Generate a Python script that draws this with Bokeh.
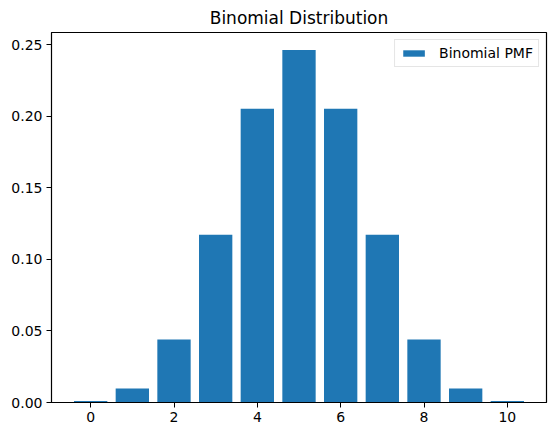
from bokeh.plotting import figure
from bokeh.models import ColumnDataSource, Range1d, FixedTicker, Legend, LegendItem, NumeralTickFormatter
from bokeh.embed import file_html
from bokeh.resources import INLINE

# binomial pmf values (k = 0..10)
k = [0, 1, 2, 3, 4, 5, 6, 7, 8, 9, 10]
pmf = [0.000977, 0.009766, 0.043945, 0.117188, 0.205078, 0.246094,
       0.205078, 0.117188, 0.043945, 0.009766, 0.000977]
x_ticks = [0, 2, 4, 6, 8, 10]
y_ticks = [0.0, 0.05, 0.10, 0.15, 0.20, 0.25]

src = ColumnDataSource(dict(k=k, pmf=pmf))

p = figure(width=548, height=427, output_backend="svg", toolbar_location=None,
           title="Binomial Distribution",
           x_range=Range1d(-0.94, 10.94), y_range=Range1d(0, 0.2584),
           min_border_left=51, min_border_right=2, min_border_top=32, min_border_bottom=25)

r = p.vbar(x="k", top="pmf", width=0.8, source=src, fill_color="#1f77b4", line_color=None)

p.title.align = "center"
p.title.text_font = "DejaVu Sans"
p.title.text_font_size = "17px"
p.title.text_font_style = "normal"
p.title.text_color = "black"

p.xgrid.grid_line_color = None
p.ygrid.grid_line_color = None
p.outline_line_color = "black"
p.outline_line_width = 1.2
p.outline_line_alpha = 1.0
p.background_fill_color = "white"

p.xaxis.ticker = FixedTicker(ticks=x_ticks)
p.yaxis.ticker = FixedTicker(ticks=y_ticks)
p.yaxis.formatter = NumeralTickFormatter(format="0.00")
for ax in (p.xaxis, p.yaxis):
    ax.major_label_text_font = "DejaVu Sans"
    ax.major_label_text_font_size = "14px"
    ax.major_label_text_color = "black"
    ax.axis_line_color = "black"
    ax.major_tick_line_color = "black"
    ax.major_tick_out = 5
    ax.major_tick_in = 0
    ax.major_label_standoff = 4
    ax.minor_tick_line_color = None

legend = Legend(items=[LegendItem(label="Binomial PMF", renderers=[r])],
                location="top_right")
legend.label_text_font = "DejaVu Sans"
legend.label_text_font_size = "14px"
legend.label_text_color = "black"
legend.border_line_color = "#cccccc"
legend.glyph_width = 27
legend.glyph_height = 8
legend.padding = 5
legend.margin = 7
legend.label_standoff = 12
p.add_layout(legend)

open("out.html", "w").write(file_html(p, INLINE))
